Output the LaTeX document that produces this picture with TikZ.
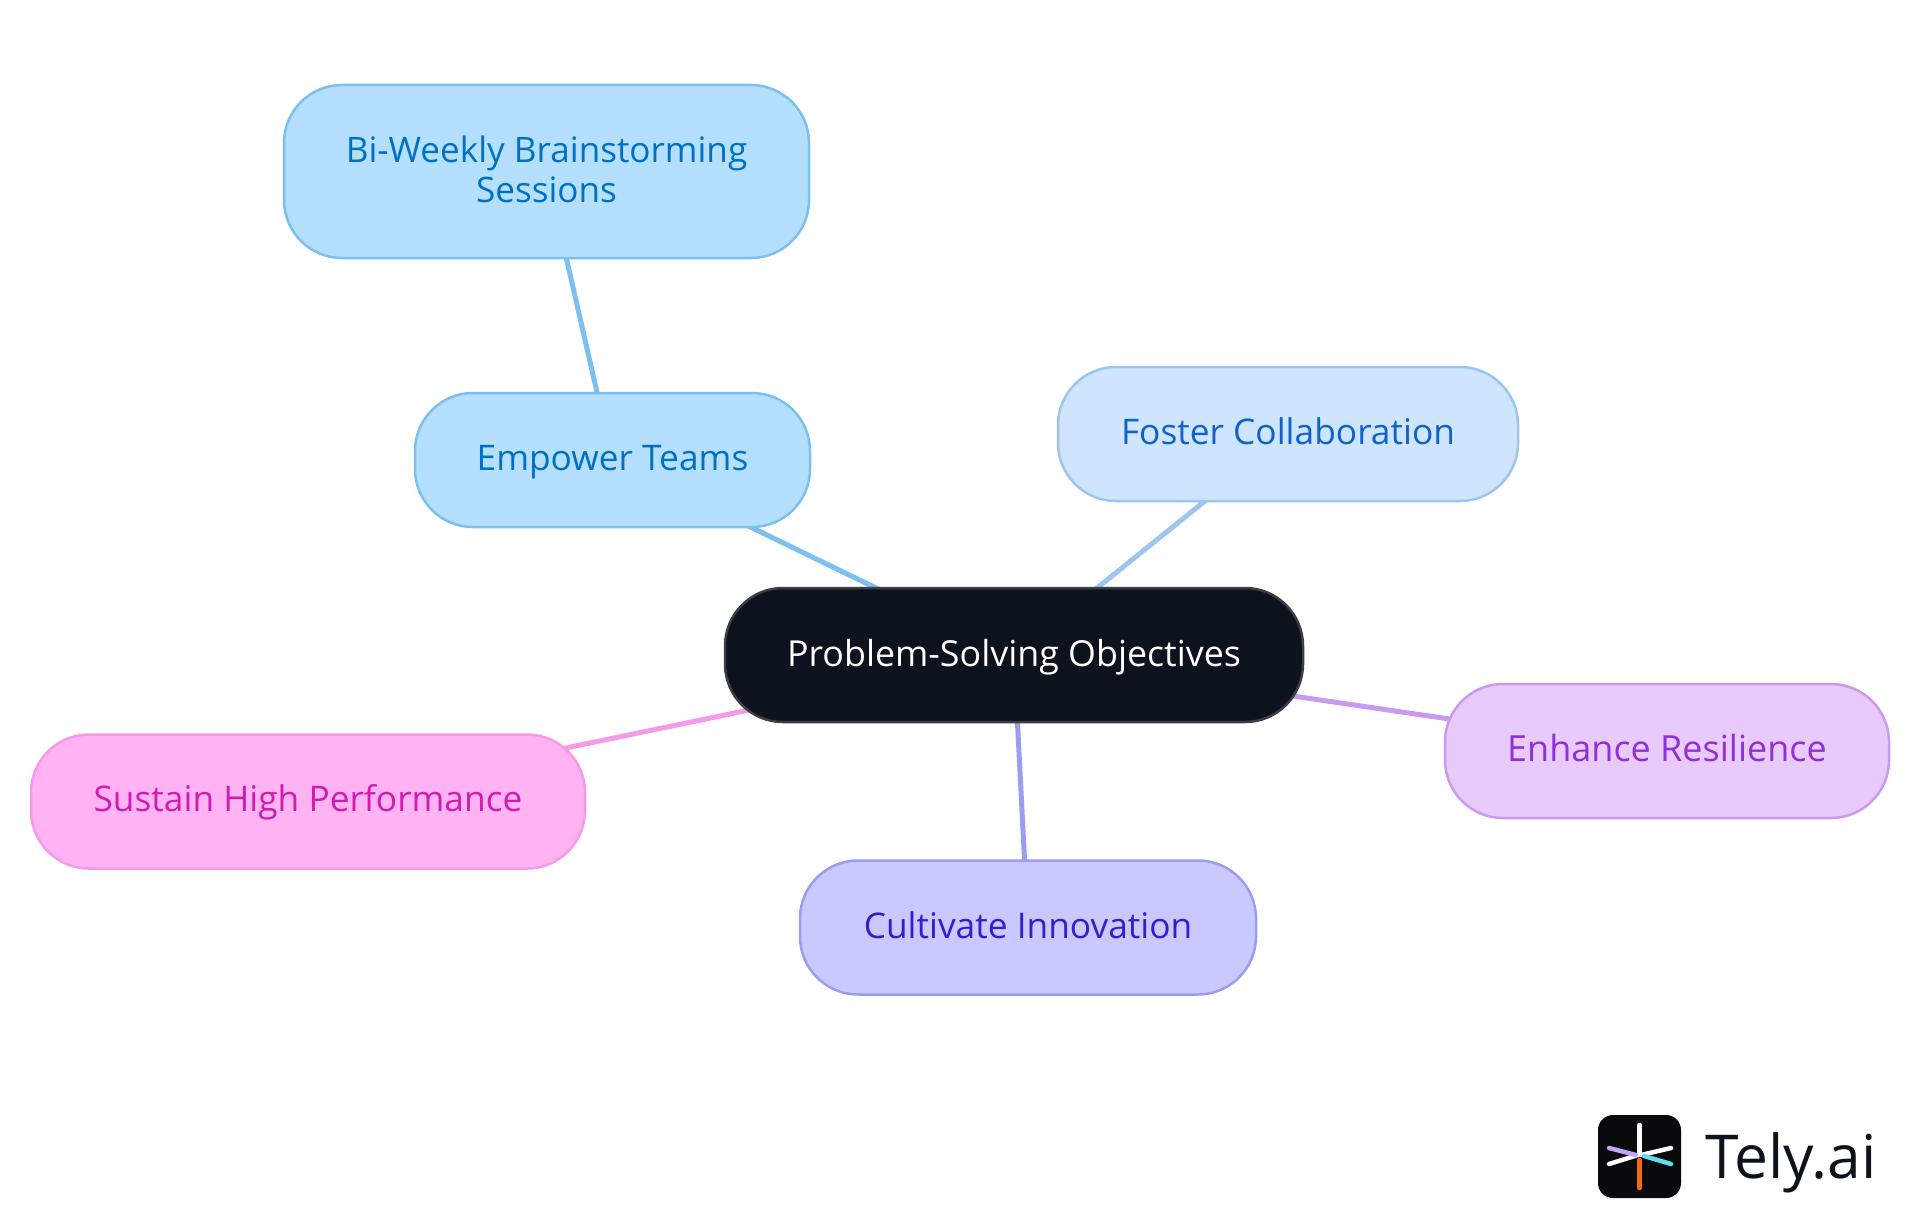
\documentclass[tikz,border=0pt]{standalone}
\usepackage{fontspec}
\setmainfont{Open Sans}
\usetikzlibrary{backgrounds}
\definecolor{teamF}{HTML}{B5DFFF}\definecolor{teamD}{HTML}{7BC0F0}\definecolor{teamT}{HTML}{0070C4}
\definecolor{fostF}{HTML}{CFE4FD}\definecolor{fostD}{HTML}{9CC6F0}\definecolor{fostT}{HTML}{0F62CC}
\definecolor{coreF}{HTML}{0C131C}\definecolor{coreD}{HTML}{3A3F46}
\definecolor{enhF}{HTML}{E8CBFC}\definecolor{enhD}{HTML}{C99AEF}\definecolor{enhT}{HTML}{9030D8}
\definecolor{culF}{HTML}{C9C9FF}\definecolor{culD}{HTML}{9C9CF0}\definecolor{culT}{HTML}{3020D0}
\definecolor{susF}{HTML}{FFB3F3}\definecolor{susD}{HTML}{F59AE6}\definecolor{susT}{HTML}{D01CB0}
\definecolor{logoK}{HTML}{0A0A0C}\definecolor{logoP}{HTML}{BFA6F2}\definecolor{logoC}{HTML}{5FDDEE}\definecolor{logoO}{HTML}{F26A12}
\newcommand{\pilltext}[2]{\raisebox{#1}[0pt][0pt]{#2}}
\tikzset{
  pill/.style={rounded corners=58pt,line width=2.5pt,align=center,inner sep=0pt,font=\fontsize{35.3}{40}\selectfont},
  link/.style={line width=5pt},
  spoke/.style={line width=4.5pt,line cap=round}
}
\begin{document}
\begin{tikzpicture}[x=1pt,y=-1pt]
\useasboundingbox (0,0) rectangle (1920,1215);
\node[pill,draw=teamD,fill=teamF,text=teamT,minimum width=525pt,minimum height=173pt] (bi) at (546.5,171.5) {\pilltext{8.6pt}{\parbox[t]{500pt}{\centering\fontsize{35.1}{40}\selectfont Bi-Weekly Brainstorming\\Sessions}}};
\node[pill,draw=teamD,fill=teamF,text=teamT,minimum width=395pt,minimum height=134pt] (emp) at (612.5,460) {\pilltext{-10pt}{Empower Teams}};
\node[pill,draw=fostD,fill=fostF,text=fostT,minimum width=460pt,minimum height=134pt] (fos) at (1288,434) {\pilltext{-10.3pt}{Foster Collaboration}};
\node[pill,draw=coreD,fill=coreF,text=white,minimum width=578pt,minimum height=134pt] (core) at (1014,655) {\pilltext{-11pt}{\fontsize{35.8}{40}\selectfont Problem-Solving Objectives}};
\node[pill,draw=enhD,fill=enhF,text=enhT,minimum width=444pt,minimum height=134pt] (enh) at (1667,751) {\pilltext{-10.7pt}{\fontsize{36}{40}\selectfont Enhance Resilience}};
\node[pill,draw=culD,fill=culF,text=culT,minimum width=456pt,minimum height=134pt] (cul) at (1028,927.5) {\pilltext{-11pt}{Cultivate Innovation}};
\node[pill,draw=susD,fill=susF,text=susT,minimum width=554pt,minimum height=134pt] (sus) at (308,801.5) {\pilltext{-10pt}{Sustain High Performance}};
\begin{scope}[on background layer]
\draw[link,draw=teamD] (bi.center) -- (emp.center);
\draw[link,draw=teamD] (emp.center) -- (core.center);
\draw[link,draw=fostD] (fos.center) -- (core.center);
\draw[link,draw=enhD] (enh.center) -- (core.center);
\draw[link,draw=culD] (cul.center) -- (core.center);
\draw[link,draw=susD] (sus.center) -- (core.center);
\end{scope}
\fill[logoK,rounded corners=15pt] (1598,1115) rectangle (1681,1198);
\draw[spoke,white] (1639.7,1125) -- (1639.7,1153);
\draw[spoke,white] (1609,1164) -- (1638,1155);
\draw[spoke,white] (1641,1155) -- (1671,1148);
\draw[spoke,logoP] (1609,1148) -- (1636,1155);
\draw[spoke,logoC] (1644,1156) -- (1671,1164);
\draw[spoke,logoO] (1639.7,1160) -- (1639.7,1188);
\node[anchor=base west,inner sep=0pt,text=coreF,font=\fontsize{60.5}{62}\selectfont] (brand) at (1705,1178) {Tely.ai};
\end{tikzpicture}
\end{document}
